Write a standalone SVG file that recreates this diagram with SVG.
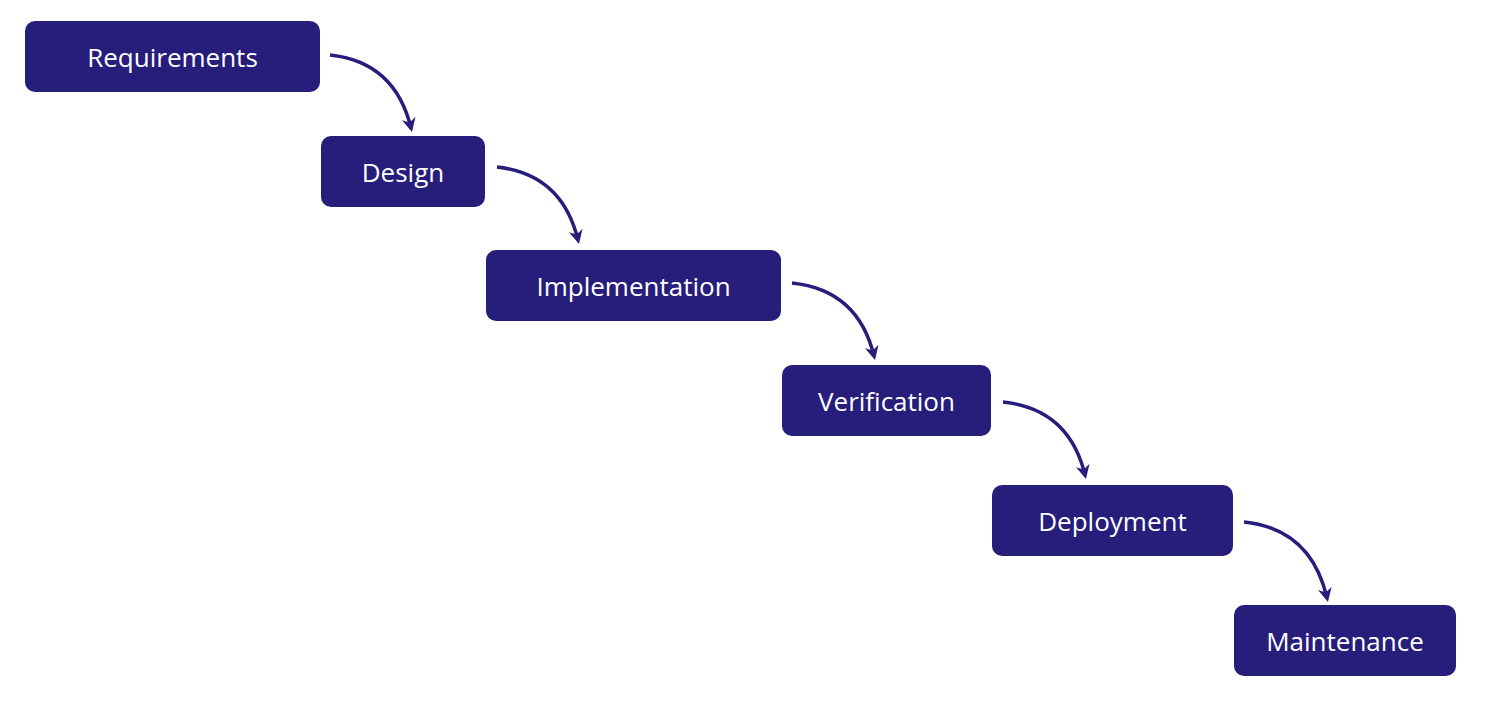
<svg xmlns="http://www.w3.org/2000/svg" width="1488" height="703" viewBox="0 0 1488 703">
<style>
.n rect{fill:#271d7a;}
.n text{fill:#fff;font-family:"Open Sans","Liberation Sans",sans-serif;font-size:26px;text-anchor:middle;dominant-baseline:central;}
.c path{fill:none;stroke:#271d7a;stroke-width:3.5;marker-end:url(#ah);}
</style>
<defs>
<marker id="ah" viewBox="0 0 10 10" refX="7" refY="5" markerWidth="4" markerHeight="4" orient="auto" markerUnits="strokeWidth">
<path d="M0,0 L10,5 L0,10 L3,5 Z" fill="#271d7a"/>
</marker>
</defs>
<rect width="1488" height="703" fill="#fff"/>
<g id="requirements" class="n"><rect x="25" y="21" width="295" height="71" rx="10"/><text x="172.5" y="57">Requirements</text></g>
<g id="design" class="n"><rect x="321" y="136" width="164" height="71" rx="10"/><text x="403" y="172">Design</text></g>
<g id="implementation" class="n"><rect x="486" y="250" width="295" height="71" rx="10"/><text x="633.5" y="286">Implementation</text></g>
<g id="verification" class="n"><rect x="782" y="365" width="209" height="71" rx="10"/><text x="886.5" y="401">Verification</text></g>
<g id="deployment" class="n"><rect x="992" y="485" width="241" height="71" rx="10"/><text x="1112.5" y="521">Deployment</text></g>
<g id="maintenance" class="n"><rect x="1234" y="605" width="222" height="71" rx="10"/><text x="1345" y="641">Maintenance</text></g>
<g id="connectors" class="c">
<path d="M330,55 Q395,62 411,128"/>
<path d="M497,167 Q562,174 578,240"/>
<path d="M792,283 Q858,290 874,356"/>
<path d="M1003,402 Q1069,409 1085,475"/>
<path d="M1244,522 Q1311,529 1327,598"/>
</g>
</svg>
